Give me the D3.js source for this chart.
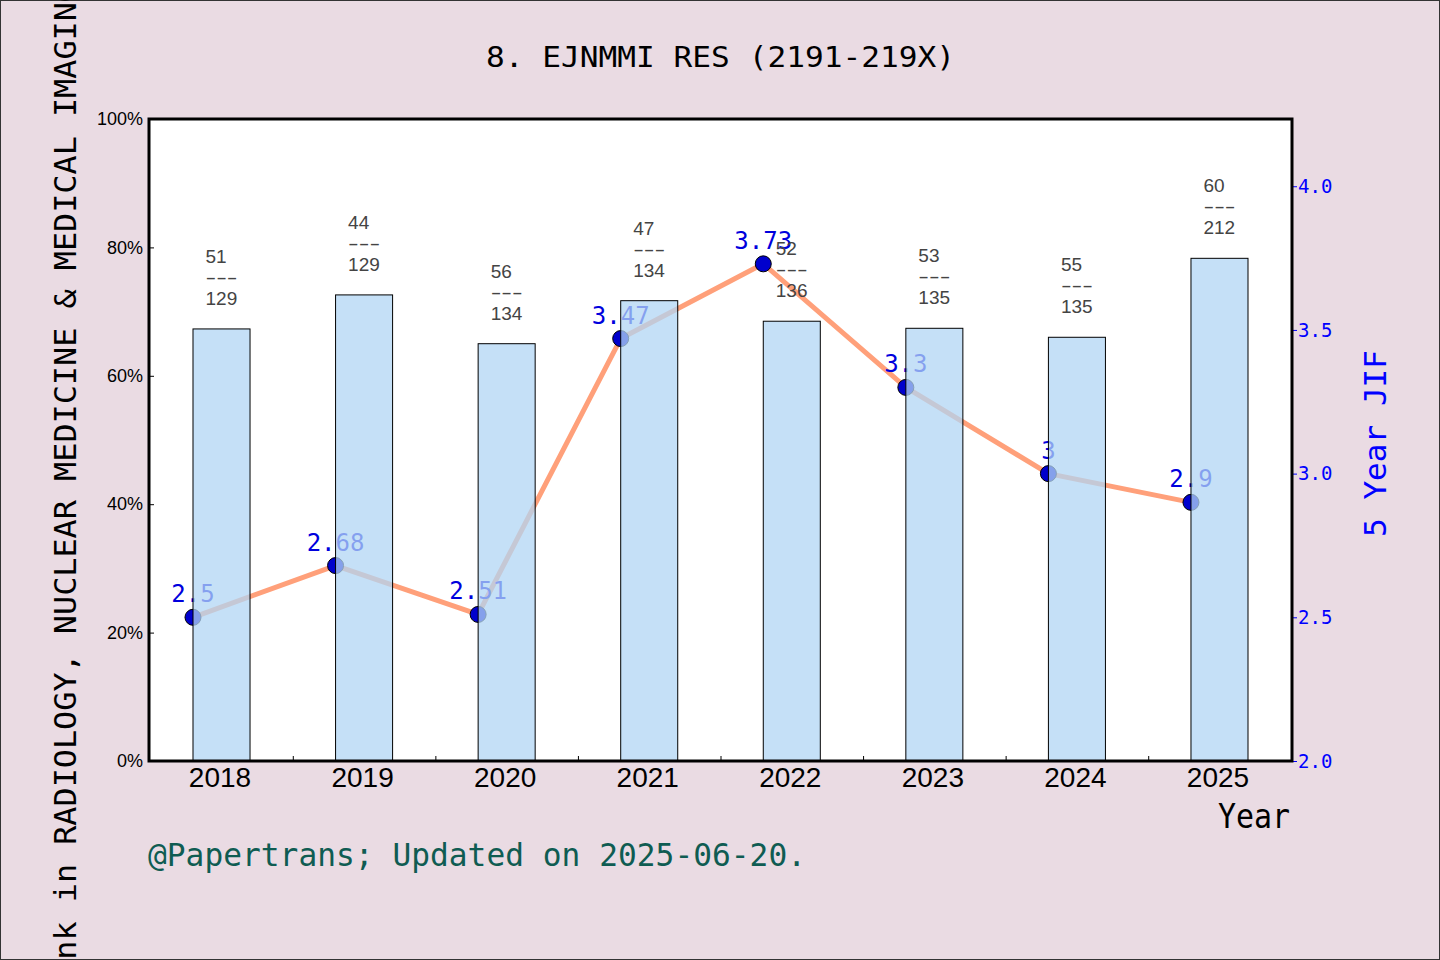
<!DOCTYPE html>
<html>
<head>
<meta charset="utf-8">
<script src="https://cdn.jsdelivr.net/npm/d3@7"></script>
<style>
  html, body { margin: 0; padding: 0; background: #eadbe3; }
  svg { display: block; }
</style>
</head>
<body>
<div id="chart"></div>
<script>
// donnees
const years = ['2018', '2019', '2020', '2021', '2022', '2023', '2024', '2025']
const rankPct = [67.3, 72.6, 65.0, 71.7, 68.5, 67.4, 66.0, 78.3]
const ranks = ['51', '44', '56', '47', '52', '53', '55', '60']
const totals = ['129', '129', '134', '134', '136', '135', '135', '212']
const jif = [2.5, 2.68, 2.51, 3.47, 3.73, 3.3, 3.0, 2.9]
const jifLabels = ['2.5', '2.68', '2.51', '3.47', '3.73', '3.3', '3', '2.9']
const leftTicks = [0, 20, 40, 60, 80, 100]
const rightTicks = [2.0, 2.5, 3.0, 3.5, 4.0]

const W = 1440, H = 960
const plot = { left: 149, right: 1292, top: 119, bottom: 761 }
const mono = "'DejaVu Sans Mono', monospace"
const sans = "'Liberation Sans', Arial, sans-serif"

const svg = d3.select('#chart')
    .append('svg')
    .attr('width', W)
    .attr('height', H)

svg.append('rect')
    .attr('x', 0.5).attr('y', 0.5)
    .attr('width', W - 1).attr('height', H - 1)
    .attr('fill', '#eadbe3')
    .attr('stroke', '#333')

svg.append('rect')
    .attr('x', plot.left).attr('y', plot.top)
    .attr('width', plot.right - plot.left)
    .attr('height', plot.bottom - plot.top)
    .attr('fill', 'white')

// echelles
const idx = years.map((d, i) => i)
const x = d3.scaleLinear()
    .domain([-0.3086, 7.7086])
    .range([plot.left, plot.right])
const yL = d3.scaleLinear().domain([0, 100]).range([plot.bottom, plot.top])
const yR = d3.scaleLinear().domain([2, 4.234]).range([plot.bottom, plot.top])
const barW = 0.4

// ligne JIF (sous les barres)
const line = d3.line()
    .x((d, i) => x(i))
    .y(d => yR(d))

svg.append('path')
    .datum(jif)
    .attr('d', line)
    .attr('fill', 'none')
    .attr('stroke', '#ffa07a')
    .attr('stroke-width', 5)
    .attr('stroke-linejoin', 'round')

svg.append('g')
    .selectAll('circle')
    .data(jif)
    .enter()
    .append('circle')
    .attr('cx', (d, i) => x(i))
    .attr('cy', d => yR(d))
    .attr('r', 8)
    .attr('fill', '#0000cd')
    .attr('stroke', 'black')
    .attr('stroke-width', 1)

svg.append('g')
    .selectAll('text')
    .data(jif)
    .enter()
    .append('text')
    .attr('x', (d, i) => x(i))
    .attr('y', d => yR(d) - 15)
    .attr('text-anchor', 'middle')
    .attr('font-family', mono)
    .attr('font-size', 24)
    .attr('fill', '#0000dd')
    .text((d, i) => jifLabels[i])

// barres
svg.append('g')
    .selectAll('rect')
    .data(rankPct)
    .enter()
    .append('rect')
    .attr('x', (d, i) => x(i))
    .attr('y', d => yL(d))
    .attr('width', (d, i) => x(i + barW) - x(i))
    .attr('height', d => yL(0) - yL(d))
    .attr('fill', 'rgb(178,214,244)')
    .attr('fill-opacity', 0.75)
    .attr('stroke', 'black')
    .attr('stroke-width', 1)

// etiquettes rang / total
const lab = svg.append('g')
    .attr('font-family', sans)
    .attr('font-size', 19)
    .attr('fill', '#444')

rankPct.forEach(function (d, i) {
    const x0 = x(i + barW / 2) - 16
    const top = yL(d)
    lab.append('text').attr('x', x0).attr('y', top - 66).text(ranks[i])
    lab.append('text').attr('x', x0).attr('y', top - 45)
        .attr('textLength', 32).attr('lengthAdjust', 'spacingAndGlyphs')
        .text('---')
    lab.append('text').attr('x', x0).attr('y', top - 24).text(totals[i])
})

// axes
const axL = svg.append('g')
    .attr('transform', 'translate(' + plot.left + ',0)')
    .call(d3.axisLeft(yL).tickValues(leftTicks).tickFormat(d => d + '%').tickSize(-5).tickPadding(6))
axL.selectAll('text').attr('font-family', sans).attr('font-size', 18).attr('fill', 'black')

const axR = svg.append('g')
    .attr('transform', 'translate(' + plot.right + ',0)')
    .call(d3.axisRight(yR).tickValues(rightTicks).tickFormat(d3.format('.1f')).tickSize(5).tickPadding(1))
axR.selectAll('text').attr('font-family', mono).attr('font-size', 19).attr('fill', '#0000ff')
axR.selectAll('line').attr('stroke', '#0000ff')

const axB = svg.append('g')
    .attr('transform', 'translate(0,' + plot.bottom + ')')
    .call(d3.axisBottom(x).tickValues(idx.map(i => i + barW / 2)).tickFormat((d, i) => years[i]).tickSize(0).tickPadding(6))
axB.selectAll('text').attr('font-family', sans).attr('font-size', 28).attr('fill', 'black')
    .attr('dx', -2)

const axM = svg.append('g')
    .attr('transform', 'translate(0,' + plot.bottom + ')')
    .call(d3.axisBottom(x).tickValues(idx.slice(0, 7).map(i => i + barW / 2 + 0.5)).tickFormat('').tickSize(-5))

svg.selectAll('.domain').remove()

// cadre
svg.append('rect')
    .attr('x', plot.left).attr('y', plot.top)
    .attr('width', plot.right - plot.left)
    .attr('height', plot.bottom - plot.top)
    .attr('fill', 'none')
    .attr('stroke', 'black')
    .attr('stroke-width', 3)

// textes
svg.append('text')
    .attr('x', 720.5).attr('y', 67)
    .attr('text-anchor', 'middle')
    .attr('font-family', mono).attr('font-size', 29)
    .attr('textLength', 469).attr('lengthAdjust', 'spacingAndGlyphs')
    .text('8. EJNMMI RES (2191-219X)')

svg.append('text')
    .attr('transform', 'translate(76,998) rotate(-90)')
    .attr('font-family', mono).attr('font-size', 31)
    .attr('textLength', 1015).attr('lengthAdjust', 'spacingAndGlyphs')
    .text('Rank in RADIOLOGY, NUCLEAR MEDICINE & MEDICAL IMAGING')

svg.append('text')
    .attr('transform', 'translate(1386,443.5) rotate(-90)')
    .attr('text-anchor', 'middle')
    .attr('font-family', mono).attr('font-size', 31)
    .attr('fill', '#0000ff')
    .attr('textLength', 187).attr('lengthAdjust', 'spacingAndGlyphs')
    .text('5 Year JIF')

svg.append('text')
    .attr('x', 1290).attr('y', 828)
    .attr('text-anchor', 'end')
    .attr('font-family', mono).attr('font-size', 33)
    .attr('textLength', 72).attr('lengthAdjust', 'spacingAndGlyphs')
    .text('Year')

svg.append('text')
    .attr('x', 148).attr('y', 866)
    .attr('font-family', mono).attr('font-size', 32)
    .attr('fill', '#0f5c52')
    .attr('textLength', 658).attr('lengthAdjust', 'spacingAndGlyphs')
    .text('@Papertrans; Updated on 2025-06-20.')
</script>
</body>
</html>
